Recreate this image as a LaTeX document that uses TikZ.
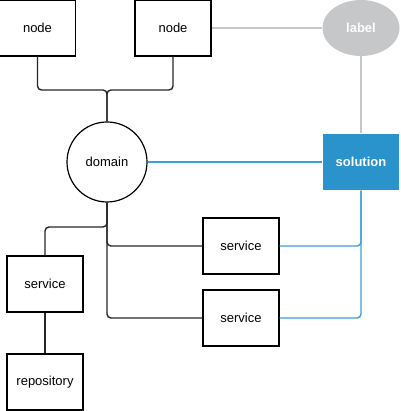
\documentclass[tikz,border=0pt]{standalone}
\usepackage{fontspec}
\setmainfont{Liberation Sans}
\usetikzlibrary{calc,shapes}

\definecolor{solblue}{HTML}{2A93CC}
\definecolor{linkblue}{HTML}{3A9FDB}
\definecolor{labgray}{HTML}{C6C7C9}

\begin{document}
\begin{tikzpicture}[x=1pt,y=1pt,
    box/.style={draw, line width=1.2pt, minimum width=76pt, minimum height=56pt, inner sep=0pt, font=\fontsize{13}{15}\selectfont},
    link/.style={line width=1.4pt, rounded corners=4pt, color=black!85},
    bluelink/.style={link, color=linkblue},
    graylink/.style={link, color=labgray}]
    \useasboundingbox (0,0) rectangle (400,411);

    \node [box] (nodeA) at (37.5,383) {node};
    \node [box] (nodeB) at (173,383) {node};
    \node [ellipse, fill=labgray, minimum width=77pt, minimum height=56pt, inner sep=0pt,
           text=white, font=\fontsize{13}{15}\selectfont\bfseries] (label) at (361,383) {label};
    \node [circle, draw, line width=1.2pt, minimum size=80pt, inner sep=0pt, font=\fontsize{13}{15}\selectfont] (domain) at (107,249) {domain};
    \node [box, draw=none, fill=solblue, text=white, font=\fontsize{13}{15}\selectfont\bfseries] (solution) at (361,249) {solution};
    \node [box] (svcLeft) at (45,127) {service};
    \node [box] (repo) at (45,29) {repository};
    \node [box] (svcA) at (241,165) {service};
    \node [box] (svcB) at (241,93) {service};

    \draw [link] (nodeA.south) -- (nodeA.south |- 0,321) -- (domain.north |- 0,321) -- (domain.north);
    \draw [link] (nodeB.south) -- (nodeB.south |- 0,321) -- (domain.north |- 0,321) -- (domain.north);
    \draw [link] (domain.south) -- (domain.south |- 0,184) -| (svcLeft.north);
    \draw [link] (domain.south) |- (svcA.west);
    \draw [link] (domain.south) |- (svcB.west);
    \draw [link] (svcLeft.south) -- (repo.north);

    \draw [graylink] (nodeB.east) -- (label.west);
    \draw [graylink] (label.south) -- (solution.north);
    \draw [bluelink] (domain.east) -- (solution.west);
    \draw [bluelink] (svcA.east) -| (solution.south);
    \draw [bluelink] (svcB.east) -| (solution.south);
\end{tikzpicture}
\end{document}
